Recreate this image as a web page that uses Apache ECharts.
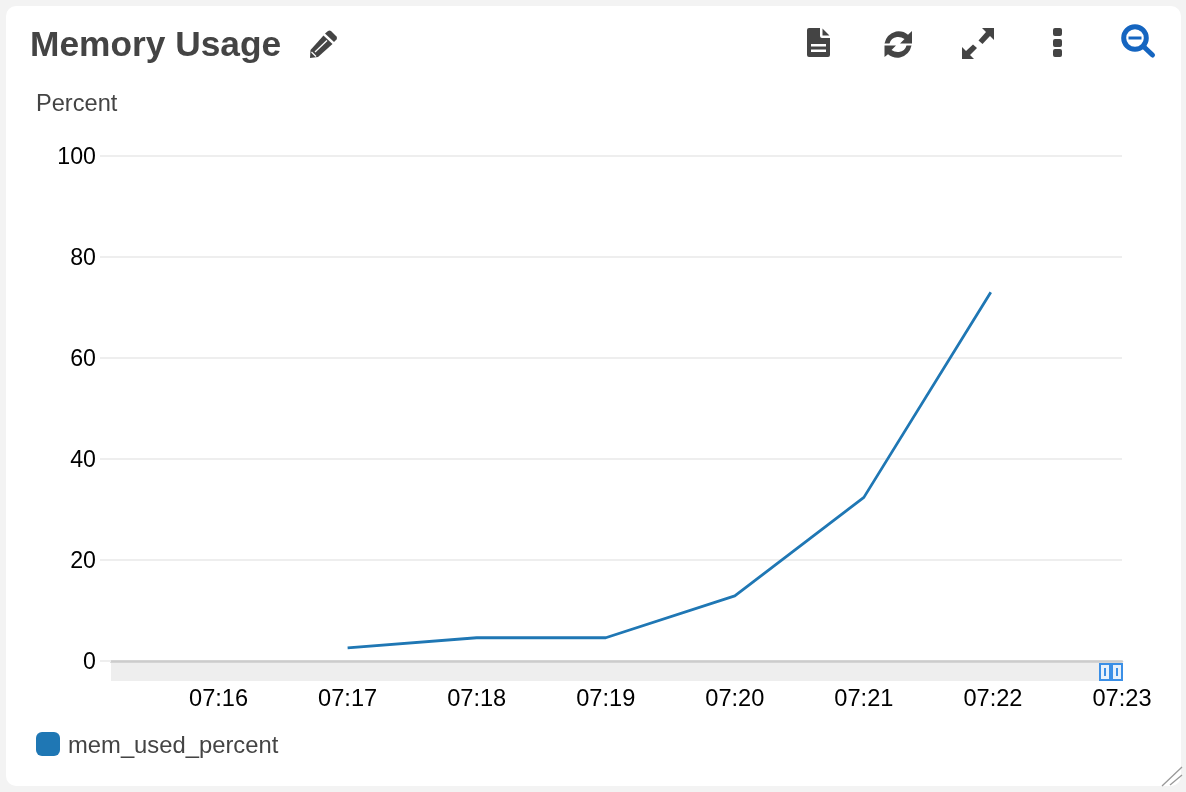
<!DOCTYPE html>
<html>
<head>
<meta charset="utf-8">
<style>
html,body{margin:0;padding:0;width:1186px;height:792px;background:#f3f3f3;overflow:hidden}
#card{position:absolute;left:6px;top:6px;width:1175px;height:780px;background:#fff;border-radius:10px}
#chart{position:absolute;left:0;top:0;width:1186px;height:792px}
#icons{position:absolute;left:0;top:0;width:1186px;height:792px;pointer-events:none}
</style>
<script src="https://cdn.jsdelivr.net/npm/echarts@6/dist/echarts.min.js"></script>
</head>
<body>
<div id="card"></div>
<div id="chart"></div>
<svg id="icons" viewBox="0 0 1186 792" xmlns="http://www.w3.org/2000/svg">
  <g fill="#444444" fill-rule="evenodd">
    <path d="M328 31 Q329.5 30 331 31 L336.5 36.5 Q337.5 38 336.5 39.5 L334 42 L325 33.5 Z"/>
    <path d="M323.5 35.5 L332.5 44 L318 57 L310 58 L310.5 50 Z"/>
    <path d="M809 28 H820 V36 Q820 38 822 38 H830 V55 Q830 57 828 57 H809 Q807 57 807 55 V30 Q807 28 809 28 Z M822.5 28.5 L829.5 35.5 H822.5 Z M811 44 V46.5 H826 V44 Z M811 49.5 V52 H826 V49.5 Z"/>
    <path d="M912 31 V43.5 H900 L904.5 39 Q901 36.5 897 37 Q891 37.8 889.5 43.5 H884.5 Q886.5 34 896 31.5 Q903 30.5 908 34.8 Z M884.5 57 V45.5 H896 L891.5 50 Q895 52.5 899 52 Q905 51.2 906.5 45.5 H911.5 Q909.5 55 900 57.5 Q893 58.5 888 54.2 Z"/>
    <path d="M982 28 H994 V40 L990 36 L982.5 44 L978.5 40.5 L986 32 Z"/>
    <path d="M962 47 V59 H974 L970 55 L977 48 L973 44.5 L966 51 Z"/>
    <path d="M1055 28 H1060 Q1062 28 1062 30 V34 Q1062 36 1060 36 H1055 Q1053 36 1053 34 V30 Q1053 28 1055 28 Z M1055 39 H1060 Q1062 39 1062 41 V45 Q1062 47 1060 47 H1055 Q1053 47 1053 45 V41 Q1053 39 1055 39 Z M1055 49 H1060 Q1062 49 1062 51 V55 Q1062 57 1060 57 H1055 Q1053 57 1053 55 V51 Q1053 49 1055 49 Z"/>
  </g>
  <g fill="none" stroke="#ffffff">
    <line x1="315" y1="52" x2="327" y2="40.5" stroke-width="1.3"/>
    <path d="M311.5 52 L316 56.5" stroke-width="1.2"/>
  </g>
  <g fill="none" stroke="#1565c0">
    <circle cx="1135" cy="38" r="11.3" stroke-width="5"/>
    <line x1="1143.5" y1="46.5" x2="1152.5" y2="55" stroke-width="5" stroke-linecap="round"/>
    <line x1="1128.5" y1="38" x2="1141.5" y2="38" stroke-width="3"/>
  </g>
  <g stroke="#999" stroke-width="1.3">
    <line x1="1162" y1="786" x2="1182" y2="767"/>
    <line x1="1170" y1="785" x2="1182" y2="775"/>
  </g>
</svg>
<script>
const titleText = 'Memory Usage';
const yAxisName = 'Percent';
const seriesName = 'mem_used_percent';
const times = ['07:17:00','07:18:00','07:19:00','07:20:00','07:21:00','07:21:59'];
const values = [2.6, 4.6, 4.6, 12.9, 32.4, 73];
const axisStart = '07:15:10';
const axisEnd = '07:23:00';
const yTicks = [0,20,40,60,80,100];

const toMs = s => Date.UTC(2020,0,1,+s.slice(0,2),+s.slice(3,5),+(s.slice(6,8)||0));
const FONT = '"Liberation Sans", Arial, sans-serif';
const dark = '#444444';

const graphics = [];
graphics.push({type:'rect', silent:true, z:0, shape:{x:111,y:662,width:1011,height:19}, style:{fill:'#eeeeee'}});
graphics.push({type:'rect', silent:true, shape:{x:1099,y:663,width:24,height:18}, style:{fill:'#3b8fe6'}});
[[1101,1109],[1113,1121]].forEach(([a,b])=>{
  graphics.push({type:'rect', silent:true, shape:{x:a,y:665,width:b-a,height:14}, style:{fill:'#e8f1fb'}});
});
graphics.push({type:'rect', silent:true, shape:{x:1104,y:668,width:2,height:8}, style:{fill:'#3b8fe6'}});
graphics.push({type:'rect', silent:true, shape:{x:1116,y:668,width:2,height:8}, style:{fill:'#3b8fe6'}});

const chart = echarts.init(document.getElementById('chart'), null, {renderer:'canvas'});
chart.setOption({
  animation:false,
  useUTC:true,
  backgroundColor:'transparent',
  title:[{
    text:titleText, left:25, top:24,
    textStyle:{fontFamily:FONT,fontSize:35.3,fontWeight:'bold',color:dark}
  }],
  legend:{
    left:36, top:732, itemWidth:24, itemHeight:24, itemGap:8,
    icon:'roundRect', selectedMode:false,
    data:[seriesName],
    formatter:n=>'{a|'+n+'}',
    textStyle:{fontFamily:FONT,fontSize:23.8,color:dark,padding:[0,0,0,3],
      rich:{a:{fontFamily:FONT,fontSize:23.8,color:dark,lineHeight:28,verticalAlign:'bottom'}}},
    padding:0
  },
  grid:{left:111,right:64,top:156,bottom:131,containLabel:false},
  xAxis:{
    type:'time',
    min:toMs(axisStart), max:toMs(axisEnd),
    minInterval:60000, maxInterval:60000,
    splitLine:{show:false},
    axisTick:{show:false},
    axisLine:{show:true,lineStyle:{color:'#cccccc',width:2.5}},
    axisLabel:{
      fontFamily:FONT,fontSize:23.6,color:'#000',margin:26.5,hideOverlap:false,
      showMinLabel:false,showMaxLabel:true,
      formatter:v=>{const d=new Date(v);return String(d.getUTCHours()).padStart(2,'0')+':'+String(d.getUTCMinutes()).padStart(2,'0');}
    }
  },
  yAxis:{
    type:'value',min:yTicks[0],max:yTicks[yTicks.length-1],interval:yTicks[1]-yTicks[0],
    name:yAxisName,nameLocation:'end',nameGap:0,
    nameTextStyle:{fontFamily:FONT,fontSize:23.6,color:dark,align:'left',verticalAlign:'bottom',padding:[0,0,40,-75]},
    axisLine:{show:false},
    axisTick:{show:true,length:11,lineStyle:{color:'#eeeeee',width:2}},
    splitLine:{show:true,lineStyle:{color:'#eeeeee',width:2}},
    axisLabel:{fontFamily:FONT,fontSize:23.2,color:'#000',margin:15,
      formatter:v=>'{a|'+v+'}',
      rich:{a:{fontFamily:FONT,fontSize:23.2,color:'#000',lineHeight:27,verticalAlign:'bottom'}}}
  },
  series:[{
    name:seriesName,type:'line',
    data:times.map((t,i)=>[toMs(t),values[i]]),
    showSymbol:false,symbol:'none',
    lineStyle:{color:'#1f77b4',width:2.8},
    itemStyle:{color:'#1f77b4'},
    z:5
  }],
  graphic:graphics
});
</script>
</body>
</html>
